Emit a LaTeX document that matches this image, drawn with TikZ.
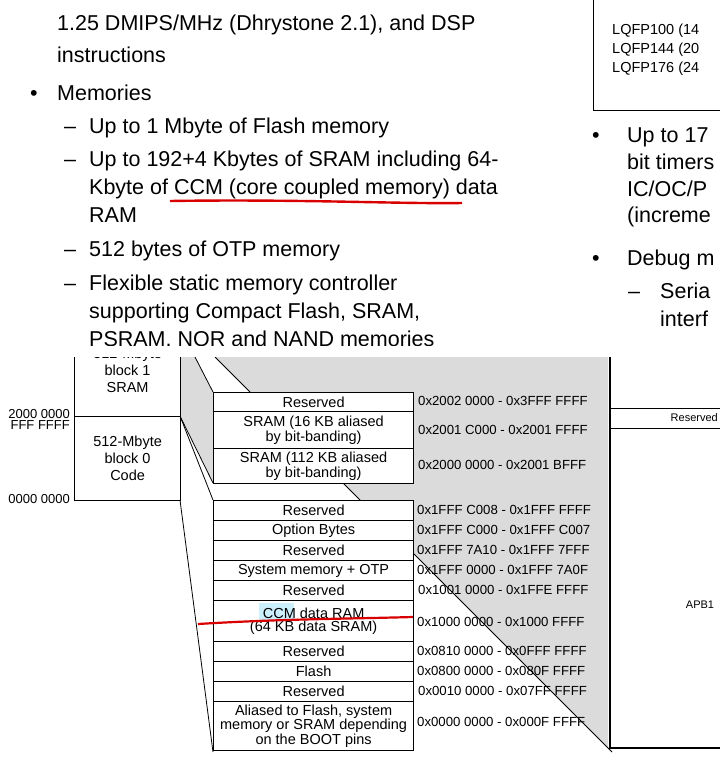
\documentclass[tikz,border=0pt]{standalone}
\usepackage{fontspec}
\setmainfont{Liberation Sans}
\begin{document}
\begin{tikzpicture}[x=1pt,y=-1pt,
  big/.style={anchor=base west,inner sep=0,font=\fontsize{21.5}{24}\selectfont},
  small/.style={anchor=base west,inner sep=0,font=\fontsize{14.5}{16}\selectfont},
  cell/.style={draw,line width=1.2pt,fill=white,minimum width=200pt,inner sep=0,align=center,font=\fontsize{14.5}{13.5}\selectfont,anchor=north west},
  addr/.style={anchor=west,inner sep=0,font=\fontsize{13.2}{14}\selectfont},
  blk/.style={draw,line width=1.2pt,fill=white,minimum width=106pt,inner sep=0,align=center,font=\fontsize{14.5}{17}\selectfont,anchor=north west},
  ln/.style={line width=0.8pt}]
\useasboundingbox (0,0) rectangle (720,758);
\fill[white] (0,0) rectangle (720,758);
% ---------- top text ----------
\begin{scope}
\clip (0,0) rectangle (720,345);
\node[big] (t1) at (57,30) {1.25 DMIPS/MHz (Dhrystone 2.1), and DSP};
\node[big] (t2) at (57,62) {instructions};
\node[big] (b1) at (30,100) {•};
\node[big] (t3) at (57,100) {Memories};
\foreach \y [count=\i] in {133,166,256,290}
  {\node[big] (d\i) at (64,\y) {–};}
\node[big] (m1) at (89,133) {Up to 1 Mbyte of Flash memory};
\node[big] (m2) at (89,166) {Up to 192+4 Kbytes of SRAM including 64-};
\node[big] (m3) at (89,194) {Kbyte of CCM (core coupled memory) data};
\node[big] (m4) at (89,222) {RAM};
\node[big] (m5) at (89,256) {512 bytes of OTP memory};
\node[big] (m6) at (89,290) {Flexible static memory controller};
\node[big] (m7) at (89,318) {supporting Compact Flash, SRAM,};
\node[big] (m8) at (89,346) {PSRAM, NOR and NAND memories};
\draw[red!85!black,line width=2.4pt] (170,201) .. controls (300,199) and (400,204) .. (462,203);
% right column
\draw[line width=1pt] (593,0) -- (593,110) -- (720,110);
\node[small] (l1) at (612,34) {LQFP100 (14};
\node[small] (l2) at (612,53) {LQFP144 (20};
\node[small] (l3) at (612,72) {LQFP176 (24};
\node[big] (rb1) at (592,142) {•};
\node[big] (r1) at (627,142) {Up to 17};
\node[big] (r2) at (627,169) {bit timers};
\node[big] (r3) at (627,196) {IC/OC/P};
\node[big] (r4) at (627,222) {(increme};
\node[big] (rb2) at (592,265) {•};
\node[big] (r5) at (627,265) {Debug m};
\node[big] (rd) at (628,298) {–};
\node[big] (r6) at (660,298) {Seria};
\node[big] (r7) at (660,326) {interf};
\end{scope}
% ---------- memory map ----------
\begin{scope}
\clip (0,357) rectangle (720,758);
\fill[black!14] (181,357) -- (608,357) -- (608,748) -- (343,483) -- (213,483) -- (181,416) -- cycle;
\fill[white] (195,357) -- (215,357) -- (250,392) -- (213,392) -- cycle;
\draw[ln] (195,357) -- (213,392);
\draw[ln] (215,357) -- (250,392);
\draw[ln] (180,416) -- (213,483);
\draw[ln] (180,416) -- (213,500);
\draw[ln] (180,500) -- (213,752);
\draw[ln] (343,483) -- (612,752);
\draw[line width=1.2pt] (610,357) -- (610,748) -- (720,748);
\node[draw,line width=1.2pt,minimum width=120pt,minimum height=20pt,anchor=north west,inner sep=0] (res) at (610,408) {};
\node[anchor=east,inner sep=2pt,font=\fontsize{11}{12}\selectfont] (rest) at (720,418) {Reserved};
\node[inner sep=0,font=\fontsize{11}{12}\selectfont] (apb) at (700,605) {APB1};
% blocks
\node[blk,minimum height=80pt] (bk1) at (74,336) {512-Mbyte\\block 1\\SRAM\\[-4pt]};
\node[blk,minimum height=84pt] (bk0) at (74,416) {512-Mbyte\\block 0\\Code};
\node[anchor=base east,inner sep=0,font=\fontsize{13}{13}\selectfont] (a1) at (70,418) {2000 0000};
\node[anchor=base east,inner sep=0,font=\fontsize{13}{13}\selectfont] (a2) at (70,429) {FFF FFFF};
\node[anchor=east,inner sep=0,font=\fontsize{13}{14}\selectfont] (a0) at (70,499) {0000 0000};
% upper box
\node[cell,minimum height=19pt] (u1) at (213,392) {Reserved};
\node[cell,minimum height=37pt] (u2) at (213,411) {SRAM (16 KB aliased\\by bit-banding)};
\node[cell,minimum height=35pt] (u3) at (213,448) {SRAM (112 KB aliased\\by bit-banding)};
\node[addr] (ua1) at (418,401) {0x2002 0000 - 0x3FFF FFFF};
\node[addr] (ua2) at (418,430) {0x2001 C000 - 0x2001 FFFF};
\node[addr] (ua3) at (418,465) {0x2000 0000 - 0x2001 BFFF};
% lower box
\node[cell,minimum height=20pt] (c1) at (213,500) {Reserved};
\node[cell,minimum height=20pt] (c2) at (213,520) {Option Bytes};
\node[cell,minimum height=20pt] (c3) at (213,540) {Reserved};
\node[cell,minimum height=20pt] (c4) at (213,560) {System memory + OTP};
\node[cell,minimum height=20pt] (c5) at (213,580) {Reserved};
\fill[cyan!20] (259,603) rectangle (294,620);
\node[cell,minimum height=41pt,fill=none] (c6) at (213,600) {CCM data RAM\\(64 KB data SRAM)};
\node[cell,minimum height=20pt] (c7) at (213,641) {Reserved};
\node[cell,minimum height=20pt] (c8) at (213,661) {Flash};
\node[cell,minimum height=20pt] (c9) at (213,681) {Reserved};
\node[cell,minimum height=49pt] (c10) at (213,701) {Aliased to Flash, system\\memory or SRAM depending\\on the BOOT pins};
\node[addr] (ca1) at (417,510) {0x1FFF C008 - 0x1FFF FFFF};
\node[addr] (ca2) at (417,530) {0x1FFF C000 - 0x1FFF C007};
\node[addr] (ca3) at (417,550) {0x1FFF 7A10 - 0x1FFF 7FFF};
\node[addr] (ca4) at (417,570) {0x1FFF 0000 - 0x1FFF 7A0F};
\node[addr] (ca5) at (418,590) {0x1001 0000 - 0x1FFE FFFF};
\node[addr] (ca6) at (417,622) {0x1000 0000 - 0x1000 FFFF};
\node[addr] (ca7) at (417,651) {0x0810 0000 - 0x0FFF FFFF};
\node[addr] (ca8) at (417,671) {0x0800 0000 - 0x080F FFFF};
\node[addr] (ca9) at (418,691) {0x0010 0000 - 0x07FF FFFF};
\node[addr] (ca10) at (417,722) {0x0000 0000 - 0x000F FFFF};
\draw[red!85!black,line width=2.2pt] (198,624) .. controls (280,619) and (340,619) .. (413,617);
\end{scope}
\end{tikzpicture}
\end{document}
